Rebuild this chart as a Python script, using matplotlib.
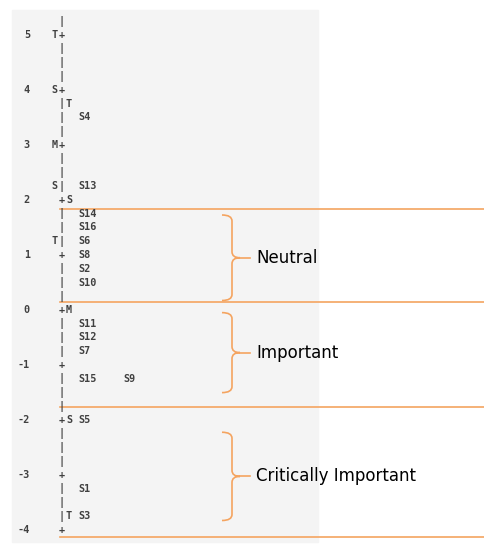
import matplotlib.pyplot as plt
from matplotlib.path import Path
from matplotlib.patches import PathPatch, Rectangle

# Wright map rows, top to bottom: (logit label, person mark, axis char, item mark, items)
scale = ['', '5', '', '', '', '4', '', '', '', '3', '', '', '', '2', '', '', '', '1', '', '',
         '', '0', '', '', '', '-1', '', '', '', '-2', '', '', '', '-3', '', '', '', '-4']
person = ['', 'T', '', '', '', 'S', '', '', '', 'M', '', '', 'S', '', '', '', 'T', '', '', '',
          '', '', '', '', '', '', '', '', '', '', '', '', '', '', '', '', '', '']
axis = ['|', '+', '|', '|', '|', '+', '|', '|', '|', '+', '|', '|', '|', '+', '|', '|', '|', '+', '|', '|',
        '|', '+', '|', '|', '|', '+', '|', '|', '|', '+', '|', '|', '|', '+', '|', '|', '|', '+']
item_mark = ['', '', '', '', '', '', 'T', '', '', '', '', '', '', 'S', '', '', '', '', '', '',
             '', 'M', '', '', '', '', '', '', '', 'S', '', '', '', '', '', '', 'T', '']
items = [[], [], [], [], [], [], [], ['S4'], [], [], [], [], ['S13'], [], ['S14'], ['S16'], ['S6'],
         ['S8'], ['S2'], ['S10'], [], [], ['S11'], ['S12'], ['S7'], [], ['S15', 'S9'], [], [],
         ['S5'], [], [], [], [], ['S1'], [], ['S3'], []]
groups = ['Neutral', 'Important', 'Critically Important']
group_rows = [(13.8, 20.6), (20.9, 27.3), (29.6, 36.6)]
cut_rows = [13.65, 20.42, 28.05, 37.5]

ROW0_Y = 35 - 13.75  # y of row 0
ROW_H = 13.75
row_y = lambda i: ROW0_Y + ROW_H * i

fig = plt.figure(figsize=(4.85, 5.5), dpi=100)
ax = fig.add_axes([0, 0, 1, 1])
ax.set_xlim(0, 485)
ax.set_ylim(550, 0)
ax.axis('off')

ax.add_patch(Rectangle((12, 10), 306, 532, color='#f4f4f4', zorder=0))

txt = dict(family='DejaVu Sans Mono', fontsize=7.3, fontweight='bold', color='#404040', va='center')
for i in range(len(axis)):
    y = row_y(i)
    ax.text(30, y, scale[i], ha='right', **txt)
    ax.text(58, y, person[i], ha='right', **txt)
    ax.text(62, y, axis[i], ha='center', **txt)
    ax.text(66, y, item_mark[i], ha='left', **txt)
    for j, s in enumerate(items[i]):
        ax.text(78 + 45 * j, y, s, ha='left', **txt)

orange = '#f4a460'
for r in cut_rows:
    y = row_y(r)
    ax.plot([60, 485], [y, y], color=orange, lw=1.2)

for name, (r0, r1) in zip(groups, group_rows):
    y0, y1 = row_y(r0) + 4, row_y(r1) - 4
    ym = (y0 + y1) / 2
    xl, xr = 222, 236
    verts = [(xl, y0), (xr - 4, y0), (xr - 4, y0 + 6),
             (xr - 4, ym - 6), (xr - 4, ym), (xr + 4, ym),
             (xr - 4, ym), (xr - 4, ym + 6),
             (xr - 4, y1 - 6), (xr - 4, y1), (xl, y1)]
    codes = [Path.MOVETO, Path.CURVE3, Path.CURVE3,
             Path.LINETO, Path.CURVE3, Path.CURVE3,
             Path.CURVE3, Path.CURVE3,
             Path.LINETO, Path.CURVE3, Path.CURVE3]
    ax.add_patch(PathPatch(Path(verts, codes), fill=False, edgecolor=orange, lw=1.2))
    ax.plot([xr + 4, 250], [ym, ym], color=orange, lw=1.2)
    ax.text(256, ym, name, fontsize=12, va='center', ha='left', color='black')

fig.savefig('out.png', dpi=100)
